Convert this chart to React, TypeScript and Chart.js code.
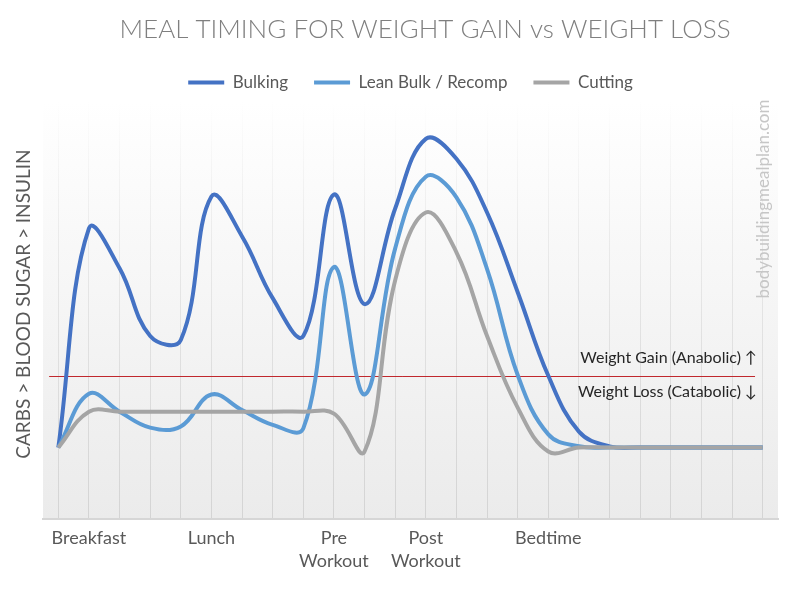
import React, { useEffect, useRef } from 'react';
import { Chart, registerables } from 'chart.js';

Chart.register(...registerables);

const TITLE = 'MEAL TIMING FOR WEIGHT GAIN vs WEIGHT LOSS';
const Y_TITLE = 'CARBS > BLOOD SUGAR > INSULIN';
const WATERMARK = 'bodybuildingmealplan.com';
const GAIN_LABEL = 'Weight Gain (Anabolic) \u2191';
const LOSS_LABEL = 'Weight Loss (Catabolic) \u2193';

const categories: (string | string[])[] = [
  '', 'Breakfast', '', '', '', 'Lunch', '', '', '', ['Pre', 'Workout'], '', '',
  ['Post', 'Workout'], '', '', '', 'Bedtime', '', '', '', '', '', '', '',
];

const seriesNames = ['Bulking', 'Lean Bulk / Recomp', 'Cutting'];
const seriesColors = ['#4472C4', '#5B9BD5', '#A5A5A5'];

const bulking = [18, 73, 63, 46, 45, 81, 71, 55.5, 46, 81.5, 54, 78, 95.5, 90.5, 77, 57, 36, 22, 18.3, 18, 18, 18, 18, 18];
const leanBulk = [18, 31.5, 27, 23, 23.3, 31.3, 27.4, 23.7, 22.8, 63.3, 31.3, 68, 86, 80.8, 62.8, 36.2, 21.3, 18.3, 18, 18, 18, 18, 18, 18];
const cutting = [18, 27, 27, 27, 27, 27, 27, 27, 27, 26.5, 17, 60, 77, 67, 46, 28, 17, 18, 18, 18, 18, 18, 18, 18];

const THRESHOLD = 36;
const THRESHOLD_FROM = -0.3;
const THRESHOLD_TO = 22.75;
const Y_MAX = 105;

const FONT = 'Lato, "Open Sans", sans-serif';

const decorPlugin = {
  id: 'decor',
  beforeDraw(chart: any) {
    const { ctx, chartArea: a } = chart;
    const g = ctx.createLinearGradient(0, a.top, 0, a.bottom);
    g.addColorStop(0, '#ffffff');
    g.addColorStop(1, '#ebebeb');
    ctx.save();
    ctx.fillStyle = g;
    ctx.fillRect(a.left, a.top, a.right - a.left, a.bottom - a.top);
    ctx.restore();
  },
  beforeDatasetsDraw(chart: any) {
    const { ctx, scales } = chart;
    const y = Math.round(scales.y.getPixelForValue(THRESHOLD)) + 0.5;
    ctx.save();
    ctx.strokeStyle = '#C0282D';
    ctx.lineWidth = 1;
    ctx.beginPath();
    ctx.moveTo(scales.x.getPixelForValue(THRESHOLD_FROM), y);
    ctx.lineTo(scales.x.getPixelForValue(THRESHOLD_TO), y);
    ctx.stroke();
    ctx.restore();
  },
  afterDraw(chart: any) {
    const { ctx, chartArea: a, scales } = chart;
    ctx.save();
    // title
    ctx.fillStyle = '#7f7f7f';
    ctx.font = `300 26px ${FONT}`;
    ctx.textAlign = 'center';
    ctx.textBaseline = 'middle';
    ctx.fillText(TITLE, chart.width / 2 + 25, 30);

    // y axis title
    ctx.save();
    ctx.translate(24, (a.top + a.bottom) / 2 - 6);
    ctx.rotate(-Math.PI / 2);
    ctx.fillStyle = '#595959';
    ctx.font = `19px ${FONT}`;
    ctx.fillText(Y_TITLE, 0, 0);
    ctx.restore();

    // watermark
    ctx.save();
    ctx.translate(a.right - 14, a.top + 98);
    ctx.rotate(-Math.PI / 2);
    ctx.fillStyle = '#c6c6c6';
    ctx.font = `17px ${FONT}`;
    ctx.fillText(WATERMARK, 0, 0);
    ctx.restore();

    // threshold annotations
    const ty = scales.y.getPixelForValue(THRESHOLD);
    ctx.fillStyle = '#262626';
    ctx.font = `16px ${FONT}`;
    ctx.textAlign = 'right';
    ctx.fillText(GAIN_LABEL, a.right - 21, ty - 18);
    ctx.fillText(LOSS_LABEL, a.right - 21, ty + 16);
    ctx.restore();
  },
};

export default function App() {
  const canvasRef = useRef<HTMLCanvasElement | null>(null);

  useEffect(() => {
    document.body.style.margin = '0';
    const canvas = canvasRef.current;
    if (!canvas) return;

    const gridColor = (c: any) => {
      const chart = c.chart;
      const a = chart.chartArea;
      if (!a) return '#d9d9d9';
      const g = chart.ctx.createLinearGradient(0, a.top, 0, a.bottom);
      g.addColorStop(0, 'rgba(215,215,215,0)');
      g.addColorStop(0.35, 'rgba(215,215,215,0.45)');
      g.addColorStop(1, 'rgba(212,212,212,1)');
      return g;
    };

    const seriesData = [bulking, leanBulk, cutting];
    const chart = new Chart(canvas, {
      type: 'line',
      data: {
        labels: categories,
        datasets: seriesData.map((d, i) => ({
          label: seriesNames[i],
          data: d,
          borderColor: seriesColors[i],
          backgroundColor: seriesColors[i],
          borderWidth: 4,
          pointRadius: 0,
          pointHoverRadius: 0,
          tension: 0.4,
          fill: false,
          order: 2 - i,
        })),
      },
      options: {
        responsive: false,
        animation: false,
        events: [],
        layout: { padding: { left: 43, right: 22, top: 48, bottom: 15 } },
        plugins: {
          title: { display: false },
          tooltip: { enabled: false },
          legend: {
            display: true,
            position: 'top',
            labels: {
              color: '#595959',
              font: { family: FONT, size: 17 },
              boxWidth: 36,
              boxHeight: 0,
              padding: 26,
              sort: (a: any, b: any) => a.datasetIndex - b.datasetIndex,
            },
          },
        },
        scales: {
          x: {
            type: 'category',
            offset: true,
            grid: {
              display: true,
              drawTicks: false,
              color: gridColor,
              lineWidth: 1,
            },
            border: { display: true, color: '#d6d6d6', width: 2 },
            ticks: {
              autoSkip: false,
              maxRotation: 0,
              minRotation: 0,
              padding: 7,
              color: '#595959',
              font: { family: FONT, size: 18, lineHeight: 1.3 },
            },
          },
          y: {
            display: false,
            min: 0,
            max: Y_MAX,
          },
        },
      },
      plugins: [decorPlugin],
    });

    return () => chart.destroy();
  }, []);

  return (
    <div style={{ position: 'fixed', left: 0, top: 0, width: 800, height: 595, background: '#fff' }}>
      <canvas ref={canvasRef} width={800} height={595} />
    </div>
  );
}
